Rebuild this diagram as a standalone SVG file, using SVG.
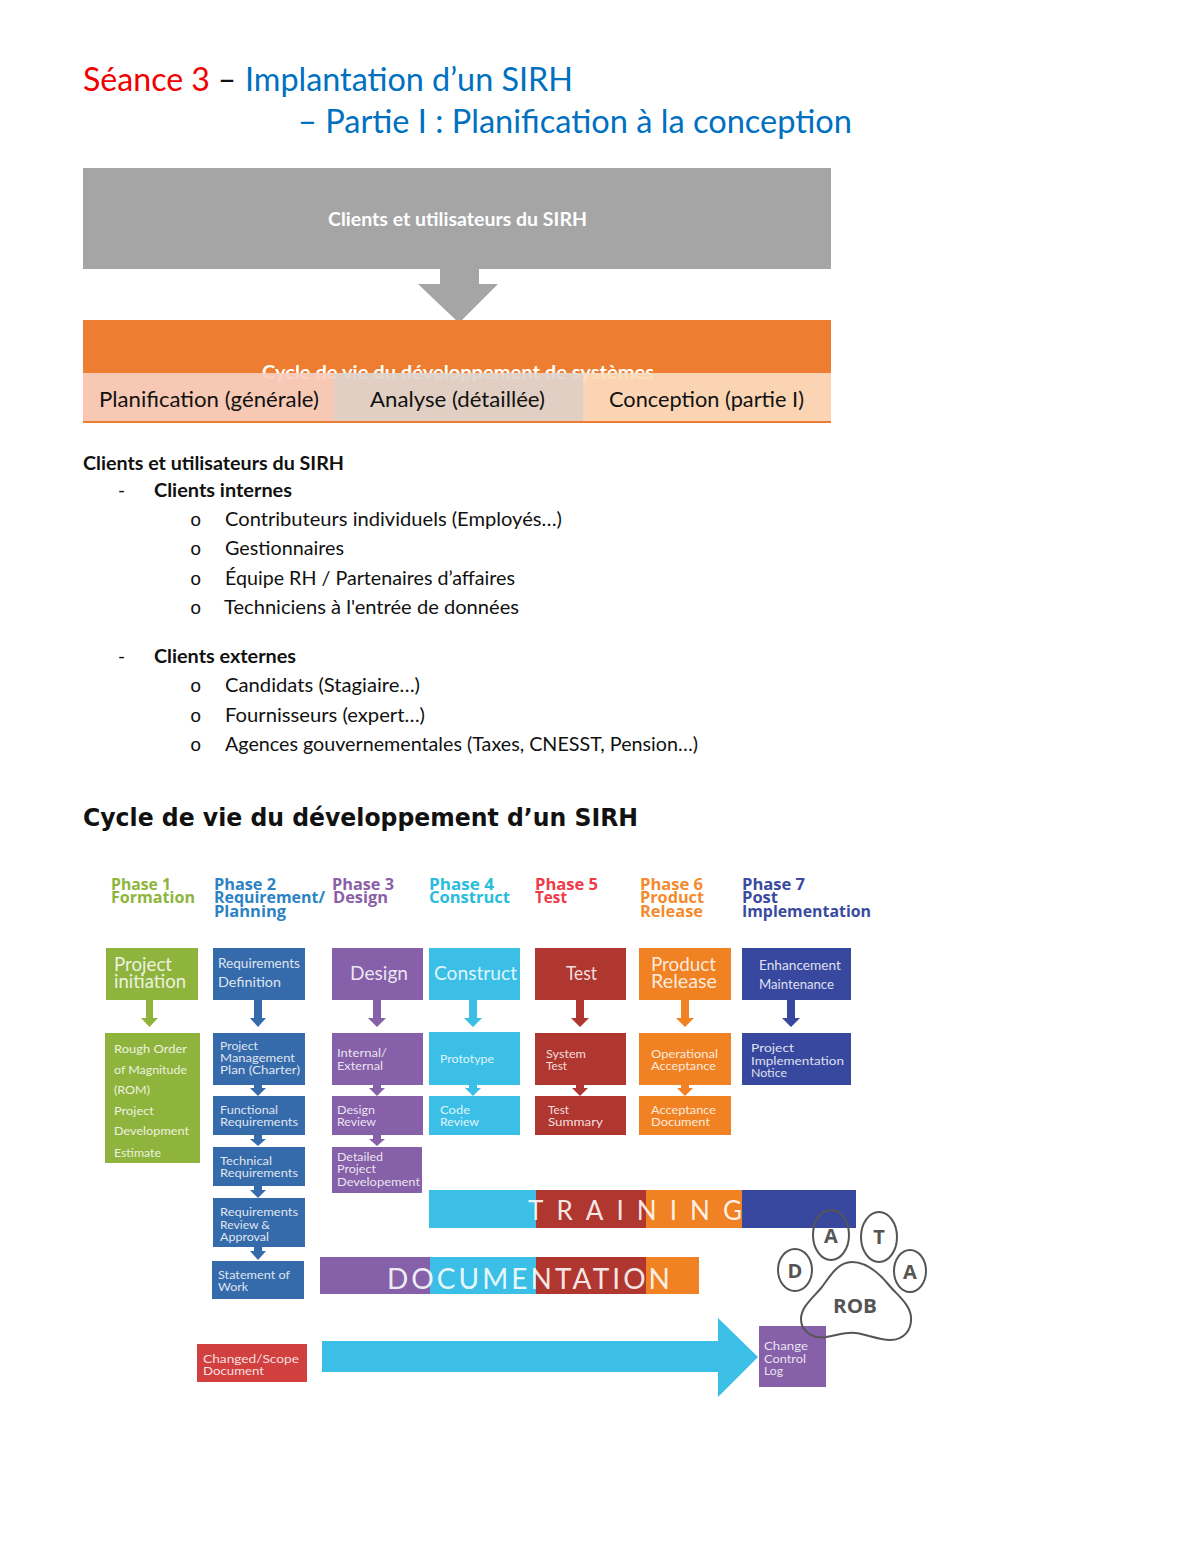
<svg xmlns="http://www.w3.org/2000/svg" width="1200" height="1553" viewBox="0 0 1200 1553">
<style>
text{font-family:"Lato","Liberation Sans",sans-serif;}
.t{font-size:32px}
.b{font-size:19px;fill:#111}
.bb{font-size:19px;font-weight:700;fill:#111}
.m{font-family:"Liberation Mono",monospace;font-size:19px;fill:#111}
.ph{font-family:"Open Sans","Liberation Sans",sans-serif;font-size:16px;font-weight:700}
.w{fill:#fff;font-size:12px;fill-opacity:.85}
.w2{fill:#fff;font-size:19px;fill-opacity:.85}
.c1{fill:#8fb43d}.c2{fill:#366bab}.c3{fill:#8660a8}.c4{fill:#3bbfe6}.c5{fill:#b0372f}.c6{fill:#f08224}.c7{fill:#38489f}
.h1{fill:#8db53c}.h2{fill:#2b82c4}.h3{fill:#8a5fa8}.h4{fill:#29bcdc}.h5{fill:#ef3b48}.h6{fill:#f48a2c}.h7{fill:#3a4a9f}
.p{fill:none;stroke:#555;stroke-width:2}
.pl{font-family:"Open Sans","Liberation Sans",sans-serif;font-weight:700;fill:#555}
.pale{font-size:22px;fill:#111}
</style>

<g id="title">
<text class="t" x="83" y="91" fill="#f00000" textLength="127" lengthAdjust="spacingAndGlyphs">Séance 3</text>
<text class="t" x="218" y="91" fill="#111" textLength="18" lengthAdjust="spacingAndGlyphs">–</text>
<text class="t" x="245" y="91" fill="#0070c0" textLength="328" lengthAdjust="spacingAndGlyphs">Implantation d’un SIRH</text>
<text class="t" x="298" y="133" fill="#0070c0" textLength="554" lengthAdjust="spacingAndGlyphs">– Partie I : Planification à la conception</text>
</g>

<g id="connectors-top">
<path fill="#a5a5a5" d="M440 269H479V284H498L459 323 418 284H440Z"/>
</g>
<g id="node-clients">
<rect x="83" y="168" width="748" height="101" fill="#a5a5a5"/>
<text x="328" y="226" font-size="18" font-weight="700" fill="#fff" textLength="259" lengthAdjust="spacingAndGlyphs">Clients et utilisateurs du SIRH</text>
</g>
<g id="node-cycle">
<rect x="83" y="320" width="748" height="103" fill="#ed7d31"/>
<text x="262" y="379" font-size="18" font-weight="700" fill="#fff" textLength="392" lengthAdjust="spacingAndGlyphs">Cycle de vie du développement de systèmes</text>
</g>
<g id="node-planification">
<rect x="83" y="373" width="251" height="48" fill="#f8cfc0" fill-opacity=".93"/>
<text class="pale" x="99" y="407" textLength="220" lengthAdjust="spacingAndGlyphs">Planification (générale)</text>
</g>
<g id="node-analyse">
<rect x="334" y="373" width="249" height="48" fill="#e0d5cf" fill-opacity=".93"/>
<text class="pale" x="370" y="407" textLength="175" lengthAdjust="spacingAndGlyphs">Analyse (détaillée)</text>
</g>
<g id="node-conception">
<rect x="583" y="373" width="248" height="48" fill="#fcdcbd" fill-opacity=".93"/>
<text class="pale" x="609" y="407" textLength="195" lengthAdjust="spacingAndGlyphs">Conception (partie I)</text>
</g>

<g id="body">
<text class="bb" x="83" y="470" textLength="261" lengthAdjust="spacingAndGlyphs">Clients et utilisateurs du SIRH</text>
<text class="b" x="118" y="497">-</text>
<text class="bb" x="154" y="497" textLength="138" lengthAdjust="spacingAndGlyphs">Clients internes</text>
<text class="m" x="190" y="526">o</text>
<text class="b" x="225" y="526" textLength="337" lengthAdjust="spacingAndGlyphs">Contributeurs individuels (Employés…)</text>
<text class="m" x="190" y="555">o</text>
<text class="b" x="225" y="555" textLength="119" lengthAdjust="spacingAndGlyphs">Gestionnaires</text>
<text class="m" x="190" y="585">o</text>
<text class="b" x="225" y="585" textLength="290" lengthAdjust="spacingAndGlyphs">Équipe RH / Partenaires d’affaires</text>
<text class="m" x="190" y="614">o</text>
<text class="b" x="224" y="614" textLength="295" lengthAdjust="spacingAndGlyphs">Techniciens à l'entrée de données</text>
<text class="b" x="118" y="663">-</text>
<text class="bb" x="154" y="663" textLength="142" lengthAdjust="spacingAndGlyphs">Clients externes</text>
<text class="m" x="190" y="692">o</text>
<text class="b" x="225" y="692" textLength="195" lengthAdjust="spacingAndGlyphs">Candidats (Stagiaire…)</text>
<text class="m" x="190" y="722">o</text>
<text class="b" x="225" y="722" textLength="200" lengthAdjust="spacingAndGlyphs">Fournisseurs (expert…)</text>
<text class="m" x="190" y="751">o</text>
<text class="b" x="225" y="751" textLength="473" lengthAdjust="spacingAndGlyphs">Agences gouvernementales (Taxes, CNESST, Pension…)</text>
<text x="83" y="826" style="font-family:'DejaVu Sans',sans-serif" font-size="24" font-weight="700" fill="#111" textLength="555" lengthAdjust="spacingAndGlyphs">Cycle de vie du développement d’un SIRH</text>
</g>

<g id="phase-headers">
<text class="ph h1" x="111" y="890" textLength="60" lengthAdjust="spacingAndGlyphs">Phase 1</text>
<text class="ph h1" x="111" y="903" textLength="84" lengthAdjust="spacingAndGlyphs">Formation</text>
<text class="ph h2" x="214" y="890" textLength="62" lengthAdjust="spacingAndGlyphs">Phase 2</text>
<text class="ph h2" x="214" y="903" textLength="111" lengthAdjust="spacingAndGlyphs">Requirement/</text>
<text class="ph h2" x="214" y="917" textLength="72" lengthAdjust="spacingAndGlyphs">Planning</text>
<text class="ph h3" x="332" y="890" textLength="62" lengthAdjust="spacingAndGlyphs">Phase 3</text>
<text class="ph h3" x="333" y="903" textLength="55" lengthAdjust="spacingAndGlyphs">Design</text>
<text class="ph h4" x="429" y="890" textLength="65" lengthAdjust="spacingAndGlyphs">Phase 4</text>
<text class="ph h4" x="429" y="903" textLength="81" lengthAdjust="spacingAndGlyphs">Construct</text>
<text class="ph h5" x="535" y="890" textLength="63" lengthAdjust="spacingAndGlyphs">Phase 5</text>
<text class="ph h5" x="535" y="903" textLength="32" lengthAdjust="spacingAndGlyphs">Test</text>
<text class="ph h6" x="640" y="890" textLength="63" lengthAdjust="spacingAndGlyphs">Phase 6</text>
<text class="ph h6" x="640" y="903" textLength="64" lengthAdjust="spacingAndGlyphs">Product</text>
<text class="ph h6" x="640" y="917" textLength="63" lengthAdjust="spacingAndGlyphs">Release</text>
<text class="ph h7" x="742" y="890" textLength="63" lengthAdjust="spacingAndGlyphs">Phase 7</text>
<text class="ph h7" x="742" y="903" textLength="36" lengthAdjust="spacingAndGlyphs">Post</text>
<text class="ph h7" x="742" y="917" textLength="129" lengthAdjust="spacingAndGlyphs">Implementation</text>
</g>

<g id="connectors">
<path class="c1" d="M146 1000H153V1018H158L149.500 1027 141 1018H146Z"/>
<path class="c2" d="M254 1000H262V1018H266L258 1027 250 1018H254Z"/>
<path class="c2" d="M254 1085H262V1088H266L258 1096 250 1088H254Z"/>
<path class="c2" d="M254 1135H262V1139H266L258 1146 250 1139H254Z"/>
<path class="c2" d="M254 1186H262V1190H266L258 1198 250 1190H254Z"/>
<path class="c2" d="M254 1247H262V1251H266L258 1260 250 1251H254Z"/>
<path class="c3" d="M373 1000H381V1018H386L377 1027 368 1018H373Z"/>
<path class="c3" d="M373 1085H381V1088H385L377 1096 369 1088H373Z"/>
<path class="c3" d="M373 1135H381V1139H385L377 1146 369 1139H373Z"/>
<path class="c4" d="M469 1000H477V1018H482L473 1027 464 1018H469Z"/>
<path class="c4" d="M469 1085H477V1088H481L473 1096 465 1088H469Z"/>
<path class="c5" d="M576 1000H584V1018H589L580 1027 571 1018H576Z"/>
<path class="c5" d="M576 1085H584V1088H588L580 1096 572 1088H576Z"/>
<path class="c6" d="M681 1000H689V1018H694L685 1027 676 1018H681Z"/>
<path class="c6" d="M681 1085H689V1088H693L685 1096 677 1088H681Z"/>
<path class="c7" d="M787 1000H795V1018H800L791 1027 782 1018H787Z"/>
<path class="c4" d="M322 1341H718V1318L758 1357 718 1397V1372H322Z"/>
</g>

<g id="n-project-initiation"><rect class="c1" x="106" y="948" width="92" height="52"/>
<text class="w2" x="114" y="971" textLength="58" lengthAdjust="spacingAndGlyphs">Project</text>
<text class="w2" x="114" y="988" textLength="72" lengthAdjust="spacingAndGlyphs">initiation</text></g>
<g id="n-rough"><rect class="c1" x="105" y="1033" width="95" height="130"/>
<text class="w" x="114" y="1053" textLength="73" lengthAdjust="spacingAndGlyphs">Rough Order</text>
<text class="w" x="114" y="1074" textLength="73" lengthAdjust="spacingAndGlyphs">of Magnitude</text>
<text class="w" x="114" y="1094" textLength="36" lengthAdjust="spacingAndGlyphs">(ROM)</text>
<text class="w" x="114" y="1115" textLength="40" lengthAdjust="spacingAndGlyphs">Project</text>
<text class="w" x="114" y="1135" textLength="75" lengthAdjust="spacingAndGlyphs">Development</text>
<text class="w" x="114" y="1157" textLength="47" lengthAdjust="spacingAndGlyphs">Estimate</text></g>

<g id="n-req-def"><rect class="c2" x="213" y="948" width="92" height="52"/>
<text class="w" style="font-size:14px" x="218" y="968" textLength="82" lengthAdjust="spacingAndGlyphs">Requirements</text>
<text class="w" style="font-size:14px" x="218" y="987" textLength="63" lengthAdjust="spacingAndGlyphs">Definition</text></g>
<g id="n-pm-plan"><rect class="c2" x="213" y="1033" width="92" height="52"/>
<text class="w" x="220" y="1050" textLength="38" lengthAdjust="spacingAndGlyphs">Project</text>
<text class="w" x="220" y="1062" textLength="75" lengthAdjust="spacingAndGlyphs">Management</text>
<text class="w" x="220" y="1074" textLength="80" lengthAdjust="spacingAndGlyphs">Plan (Charter)</text></g>
<g id="n-functional"><rect class="c2" x="213" y="1096" width="92" height="39"/>
<text class="w" x="220" y="1114" textLength="58" lengthAdjust="spacingAndGlyphs">Functional</text>
<text class="w" x="220" y="1126" textLength="78" lengthAdjust="spacingAndGlyphs">Requirements</text></g>
<g id="n-technical"><rect class="c2" x="213" y="1147" width="92" height="39"/>
<text class="w" x="220" y="1165" textLength="52" lengthAdjust="spacingAndGlyphs">Technical</text>
<text class="w" x="220" y="1177" textLength="78" lengthAdjust="spacingAndGlyphs">Requirements</text></g>
<g id="n-review"><rect class="c2" x="213" y="1198" width="92" height="49"/>
<text class="w" x="220" y="1216" textLength="78" lengthAdjust="spacingAndGlyphs">Requirements</text>
<text class="w" x="220" y="1229" textLength="50" lengthAdjust="spacingAndGlyphs">Review &amp;</text>
<text class="w" x="220" y="1241" textLength="49" lengthAdjust="spacingAndGlyphs">Approval</text></g>
<g id="n-sow"><rect class="c2" x="212" y="1261" width="92" height="38"/>
<text class="w" x="218" y="1279" textLength="72" lengthAdjust="spacingAndGlyphs">Statement of</text>
<text class="w" x="218" y="1291" textLength="30" lengthAdjust="spacingAndGlyphs">Work</text></g>

<g id="n-design"><rect class="c3" x="332" y="948" width="91" height="52"/>
<text class="w2" x="350" y="980" textLength="58" lengthAdjust="spacingAndGlyphs">Design</text></g>
<g id="n-internal"><rect class="c3" x="332" y="1033" width="91" height="52"/>
<text class="w" x="337" y="1057" textLength="50" lengthAdjust="spacingAndGlyphs">Internal/</text>
<text class="w" x="337" y="1070" textLength="46" lengthAdjust="spacingAndGlyphs">External</text></g>
<g id="n-design-review"><rect class="c3" x="332" y="1096" width="91" height="39"/>
<text class="w" x="337" y="1114" textLength="38" lengthAdjust="spacingAndGlyphs">Design</text>
<text class="w" x="337" y="1126" textLength="39" lengthAdjust="spacingAndGlyphs">Review</text></g>
<g id="n-detailed"><rect class="c3" x="332" y="1147" width="90" height="46"/>
<text class="w" x="337" y="1161" textLength="46" lengthAdjust="spacingAndGlyphs">Detailed</text>
<text class="w" x="337" y="1173" textLength="39" lengthAdjust="spacingAndGlyphs">Project</text>
<text class="w" x="337" y="1186" textLength="83" lengthAdjust="spacingAndGlyphs">Developement</text></g>

<g id="n-construct"><rect class="c4" x="429" y="948" width="91" height="52"/>
<text class="w2" x="434" y="980" textLength="83" lengthAdjust="spacingAndGlyphs">Construct</text></g>
<g id="n-prototype"><rect class="c4" x="429" y="1032" width="91" height="53"/>
<text class="w" x="440" y="1063" textLength="54" lengthAdjust="spacingAndGlyphs">Prototype</text></g>
<g id="n-code-review"><rect class="c4" x="429" y="1096" width="91" height="39"/>
<text class="w" x="440" y="1114" textLength="30" lengthAdjust="spacingAndGlyphs">Code</text>
<text class="w" x="440" y="1126" textLength="39" lengthAdjust="spacingAndGlyphs">Review</text></g>

<g id="n-test"><rect class="c5" x="535" y="948" width="91" height="52"/>
<text class="w2" x="566" y="980" textLength="31" lengthAdjust="spacingAndGlyphs">Test</text></g>
<g id="n-system-test"><rect class="c5" x="535" y="1033" width="91" height="52"/>
<text class="w" x="546" y="1058" textLength="40" lengthAdjust="spacingAndGlyphs">System</text>
<text class="w" x="546" y="1070" textLength="21" lengthAdjust="spacingAndGlyphs">Test</text></g>
<g id="n-test-summary"><rect class="c5" x="535" y="1096" width="91" height="39"/>
<text class="w" x="548" y="1114" textLength="21" lengthAdjust="spacingAndGlyphs">Test</text>
<text class="w" x="548" y="1126" textLength="55" lengthAdjust="spacingAndGlyphs">Summary</text></g>

<g id="n-product-release"><rect class="c6" x="639" y="948" width="92" height="52"/>
<text class="w2" x="651" y="971" textLength="65" lengthAdjust="spacingAndGlyphs">Product</text>
<text class="w2" x="651" y="988" textLength="66" lengthAdjust="spacingAndGlyphs">Release</text></g>
<g id="n-operational"><rect class="c6" x="639" y="1033" width="92" height="52"/>
<text class="w" x="651" y="1058" textLength="67" lengthAdjust="spacingAndGlyphs">Operational</text>
<text class="w" x="651" y="1070" textLength="65" lengthAdjust="spacingAndGlyphs">Acceptance</text></g>
<g id="n-acceptance"><rect class="c6" x="639" y="1096" width="92" height="39"/>
<text class="w" x="651" y="1114" textLength="65" lengthAdjust="spacingAndGlyphs">Acceptance</text>
<text class="w" x="651" y="1126" textLength="59" lengthAdjust="spacingAndGlyphs">Document</text></g>

<g id="n-enhancement"><rect class="c7" x="742" y="948" width="109" height="52"/>
<text class="w" style="font-size:14px" x="759" y="970" textLength="82" lengthAdjust="spacingAndGlyphs">Enhancement</text>
<text class="w" style="font-size:14px" x="759" y="989" textLength="75" lengthAdjust="spacingAndGlyphs">Maintenance</text></g>
<g id="n-notice"><rect class="c7" x="742" y="1033" width="109" height="52"/>
<text class="w" x="751" y="1052" textLength="43" lengthAdjust="spacingAndGlyphs">Project</text>
<text class="w" x="751" y="1065" textLength="93" lengthAdjust="spacingAndGlyphs">Implementation</text>
<text class="w" x="751" y="1077" textLength="36" lengthAdjust="spacingAndGlyphs">Notice</text></g>

<g id="n-training">
<rect class="c4" x="429" y="1190" width="107" height="38"/>
<rect class="c5" x="536" y="1190" width="110" height="38"/>
<rect class="c6" x="646" y="1190" width="96" height="38"/>
<rect class="c7" x="742" y="1190" width="114" height="38"/>
<text x="528" y="1220" font-size="26" fill="#fff" fill-opacity=".9" textLength="214" lengthAdjust="spacing">TRAINING</text>
</g>
<g id="n-documentation">
<rect class="c3" x="320" y="1257" width="110" height="37"/>
<rect class="c4" x="430" y="1257" width="106" height="37"/>
<rect class="c5" x="536" y="1257" width="110" height="37"/>
<rect class="c6" x="646" y="1257" width="53" height="37"/>
<text x="387" y="1289" font-size="28" fill="#fff" fill-opacity=".9" textLength="283" lengthAdjust="spacing">DOCUMENTATION</text>
</g>
<g id="n-scope"><rect x="197" y="1344" width="110" height="38" fill="#d13f3f"/>
<text class="w" x="203" y="1363" textLength="96" lengthAdjust="spacingAndGlyphs">Changed/Scope</text>
<text class="w" x="203" y="1375" textLength="61" lengthAdjust="spacingAndGlyphs">Document</text></g>
<g id="n-change-log"><rect class="c3" x="759" y="1326" width="67" height="61"/>
<text class="w" x="764" y="1350" textLength="44" lengthAdjust="spacingAndGlyphs">Change</text>
<text class="w" x="764" y="1363" textLength="42" lengthAdjust="spacingAndGlyphs">Control</text>
<text class="w" x="764" y="1375" textLength="19" lengthAdjust="spacingAndGlyphs">Log</text></g>

<g id="n-paw">
<ellipse class="p" cx="795" cy="1270" rx="17" ry="21"/>
<ellipse class="p" cx="831" cy="1235" rx="18" ry="25"/>
<ellipse class="p" cx="879" cy="1237" rx="18" ry="25"/>
<ellipse class="p" cx="910" cy="1271" rx="16" ry="21"/>
<path class="p" d="M852 1262C838 1262 830 1276 822 1287 812 1299 801 1307 801 1319 801 1331 812 1339 826 1337 838 1335 846 1332 855 1333 866 1334 878 1340 890 1340 904 1340 912 1330 911 1317 910 1304 897 1295 888 1284 878 1272 866 1262 852 1262Z"/>
<text class="pl" x="795" y="1278" font-size="20" text-anchor="middle">D</text>
<text class="pl" x="831" y="1243" font-size="20" text-anchor="middle">A</text>
<text class="pl" x="879" y="1244" font-size="20" text-anchor="middle">T</text>
<text class="pl" x="910" y="1279" font-size="20" text-anchor="middle">A</text>
<text class="pl" x="833" y="1313" font-size="20" textLength="44" lengthAdjust="spacingAndGlyphs">ROB</text>
</g>
</svg>
